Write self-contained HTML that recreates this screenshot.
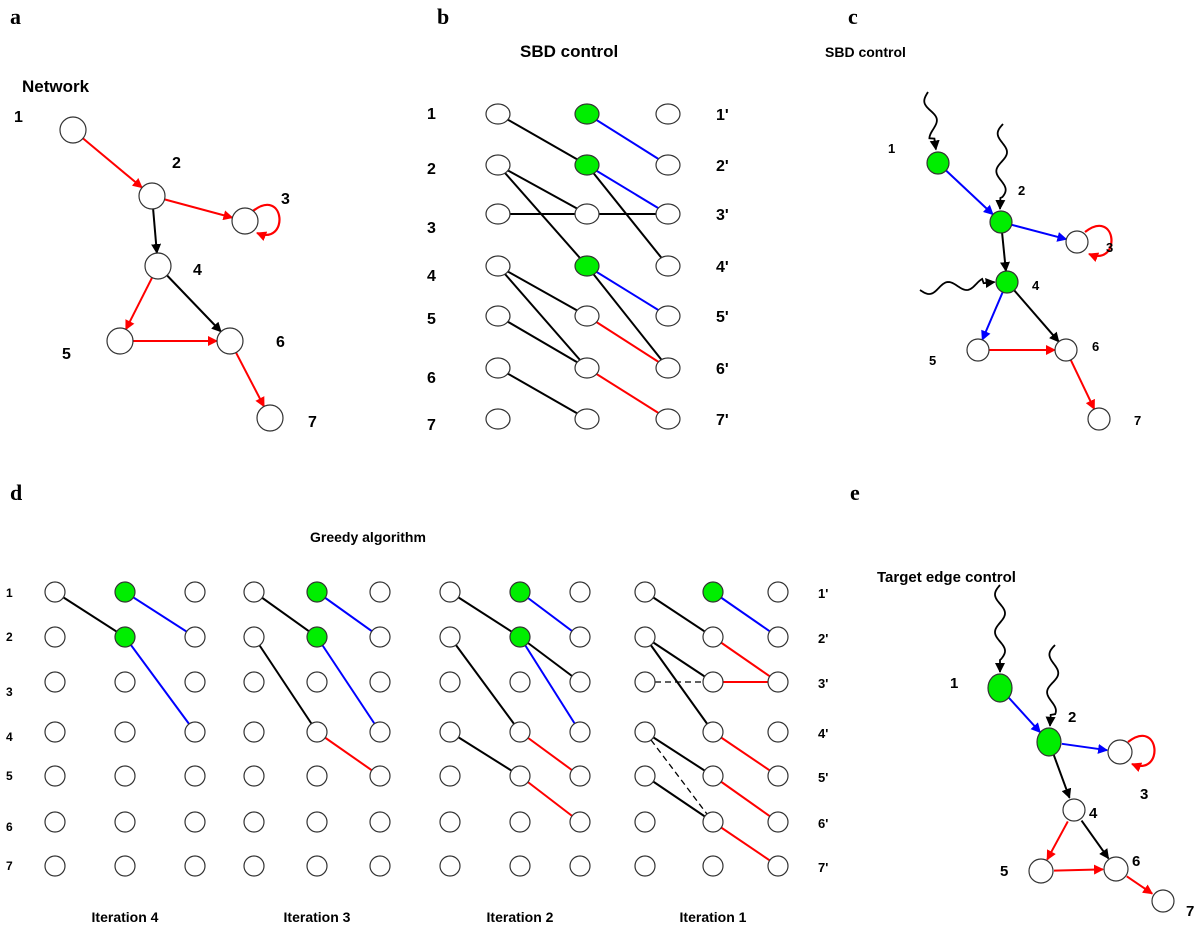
<!DOCTYPE html>
<html><head><meta charset="utf-8"><style>
body{margin:0;background:#fff}
svg{display:block}
text{font-family:"Liberation Sans",sans-serif;font-weight:bold;fill:#000}
.pl{font-family:"Liberation Serif",serif;font-size:22px}
</style></head><body>
<svg id="s" width="1200" height="930" viewBox="0 0 1200 930">
<defs>
<marker id="ak" markerWidth="10" markerHeight="10" refX="9" refY="5" orient="auto" markerUnits="userSpaceOnUse"><path d="M0,0L10,5L0,10z" fill="#000"/></marker>
<marker id="ar" markerWidth="10" markerHeight="10" refX="9" refY="5" orient="auto" markerUnits="userSpaceOnUse"><path d="M0,0L10,5L0,10z" fill="#f00"/></marker>
<marker id="ab" markerWidth="10" markerHeight="10" refX="9" refY="5" orient="auto" markerUnits="userSpaceOnUse"><path d="M0,0L10,5L0,10z" fill="#00f"/></marker>
</defs>
</svg>
<script>
const S=document.getElementById('s');const NS='http://www.w3.org/2000/svg';
const COL={k:'#000',r:'#f00',b:'#00f'};
function el(tag,attrs,name,parent){const e=document.createElementNS(NS,tag);for(const k in attrs)e.setAttribute(k,attrs[k]);


(parent||S).appendChild(e);return e;}
function txt(x,y,s,size,name,cls){const t=el('text',{x:x,y:y,'font-size':size},name);if(cls)t.setAttribute('class',cls);t.textContent=s;return t;}
function node(x,y,rx,ry,green,name){return el('ellipse',{cx:x,cy:y,rx:rx,ry:ry,fill:green?'#0e0':'#fff',stroke:'#333','stroke-width':1.2},name);}
function line(x1,y1,x2,y2,c,name,dash){const a={x1:x1,y1:y1,x2:x2,y2:y2,stroke:COL[c],'stroke-width':2};if(dash)a['stroke-dasharray']='6,4';if(dash)a['stroke-width']=1.3;return el('line',a,name);}
function arrow(p,q,c,rp,rq,name){const dx=q[0]-p[0],dy=q[1]-p[1],L=Math.hypot(dx,dy);
const x1=p[0]+dx/L*rp,y1=p[1]+dy/L*rp,x2=q[0]-dx/L*rq,y2=q[1]-dy/L*rq;
return el('line',{x1:x1,y1:y1,x2:x2,y2:y2,stroke:COL[c],'stroke-width':2,'marker-end':'url(#a'+c+')'},name);}
function selfloop(x,y,c,name){return el('path',{d:`M${x+8},${y-10} C${x+40},${y-35} ${x+45},${y+25} ${x+12},${y+12}`,fill:'none',stroke:COL[c],'stroke-width':2.2,'marker-end':'url(#a'+c+')'},name);}
function wavy(x1,y1,x2,y2,name){const dx=x2-x1,dy=y2-y1,L=Math.hypot(dx,dy),ux=dx/L,uy=dy/L,nx=-uy,ny=ux;let d=`M${x1},${y1}`;const n=Math.floor(L);
for(let i=1;i<=n;i++){const t=i;const amp=(t<L-12)?5*Math.sin(t/6):0;d+=` L${x1+ux*t+nx*amp},${y1+uy*t+ny*amp}`;}
return el('path',{d:d,fill:'none',stroke:'#000','stroke-width':1.8,'marker-end':'url(#ak)'},name);}

/* ---- panel a ---- */
txt(10,24,'a',22,'panel-a-label','pl');txt(22,92,'Network',17,'panel-a-title');
const aNodes=[[73,130],[152,196],[245,221],[158,266],[120,341],[230,341],[270,418]];
const aLab=[[14,122],[172,168],[281,204],[193,275],[62,359],[276,347],[308,427]];
const aEdges=[[0,1,'r'],[1,2,'r'],[1,3,'k'],[3,4,'r'],[3,5,'k'],[4,5,'r'],[5,6,'r']];
aEdges.forEach(e=>arrow(aNodes[e[0]],aNodes[e[1]],e[2],13,13,'a-edge-'+(e[0]+1)+'-'+(e[1]+1)));
selfloop(245,221,'r','a-selfloop-3');
aNodes.forEach((p,i)=>{node(p[0],p[1],13,13,false,'a-node-'+(i+1));txt(aLab[i][0],aLab[i][1],String(i+1),16,'a-label-'+(i+1));});

/* ---- panel b ---- */
txt(437,24,'b',22,'panel-b-label','pl');txt(520,57,'SBD control',17,'panel-b-title');
const bX=[498,587,668],bY=[114,165,214,266,316,368,419];
const bLY=[119,174,233,281,324,383,430];
const bEdges=[[0,0,1,1,'k'],[1,0,2,1,'b'],[0,1,1,2,'k'],[0,1,1,3,'k'],[0,2,2,2,'k'],[1,1,2,2,'b'],[1,1,2,3,'k'],[1,3,2,4,'b'],[1,3,2,5,'k'],[0,3,1,4,'k'],[0,3,1,5,'k'],[0,4,1,5,'k'],[1,4,2,5,'r'],[0,5,1,6,'k'],[1,5,2,6,'r']];
bEdges.forEach(e=>line(bX[e[0]],bY[e[1]],bX[e[2]],bY[e[3]],e[4],'b-edge'));
const bGreen=[[1,0],[1,1],[1,3]];
for(let c=0;c<3;c++)for(let r=0;r<7;r++)node(bX[c],bY[r],12,10,bGreen.some(g=>g[0]==c&&g[1]==r),'b-node-'+c+'-'+r);
bY.forEach((y,i)=>{txt(427,bLY[i],String(i+1),16,'b-left-label');txt(716,y+6,(i+1)+"'",16,'b-right-label');});

/* ---- panel c ---- */
txt(848,24,'c',22,'panel-c-label','pl');txt(825,57,'SBD control',14,'panel-c-title');
const cNodes=[[938,163],[1001,222],[1077,242],[1007,282],[978,350],[1066,350],[1099,419]];
const cGreen=[0,1,3];
const cLab=[[888,153],[1018,195],[1106,252],[1032,290],[929,365],[1092,351],[1134,425]];
const cEdges=[[0,1,'b'],[1,2,'b'],[1,3,'k'],[3,4,'b'],[3,5,'k'],[4,5,'r'],[5,6,'r']];
cEdges.forEach(e=>arrow(cNodes[e[0]],cNodes[e[1]],e[2],11,11,'c-edge-'+(e[0]+1)+'-'+(e[1]+1)));
selfloop(1077,242,'r','c-selfloop-3');
wavy(928,92,936,150,'c-input-1');wavy(1003,124,1000,209,'c-input-2');wavy(920,290,995,282,'c-input-4');
cNodes.forEach((p,i)=>{node(p[0],p[1],11,11,cGreen.includes(i),'c-node-'+(i+1));txt(cLab[i][0],cLab[i][1],String(i+1),13,'c-label-'+(i+1));});

/* ---- panel d ---- */
txt(10,500,'d',22,'panel-d-label','pl');txt(310,542,'Greedy algorithm',14,'panel-d-title');
const dY=[592,637,682,732,776,822,866];
const dLY=[593,637,692,737,776,827,866];
const iters=[
 {name:'Iteration 4',x:[55,125,195],green:[0,1],edges:[[0,0,1,1,'k'],[1,0,2,1,'b'],[1,1,2,3,'b']]},
 {name:'Iteration 3',x:[254,317,380],green:[0,1],edges:[[0,0,1,1,'k'],[1,0,2,1,'b'],[0,1,1,3,'k'],[1,1,2,3,'b'],[1,3,2,4,'r']]},
 {name:'Iteration 2',x:[450,520,580],green:[0,1],edges:[[0,0,1,1,'k'],[1,0,2,1,'b'],[0,1,1,3,'k'],[1,1,2,2,'k'],[1,1,2,3,'b'],[0,3,1,4,'k'],[1,3,2,4,'r'],[1,4,2,5,'r']]},
 {name:'Iteration 1',x:[645,713,778],green:[0],edges:[[0,0,1,1,'k'],[1,0,2,1,'b'],[0,1,1,2,'k'],[0,1,1,3,'k'],[0,2,1,2,'k',1],[1,1,2,2,'r'],[1,2,2,2,'r'],[0,3,1,4,'k'],[0,3,1,5,'k',1],[0,4,1,5,'k'],[1,3,2,4,'r'],[1,4,2,5,'r'],[1,5,2,6,'r']]}
];
iters.forEach((it,k)=>{
 it.edges.forEach(e=>line(it.x[e[0]],dY[e[1]],it.x[e[2]],dY[e[3]],e[4],'d-edge',e[5]));
 for(let c=0;c<3;c++)for(let r=0;r<7;r++)node(it.x[c],dY[r],10,10,c==1&&it.green.includes(r),'d-node');
 const t=txt(it.x[1],922,it.name,14,'d-iteration-label');t.setAttribute('text-anchor','middle');
});
dY.forEach((y,i)=>{txt(6,dLY[i]+4,String(i+1),12,'d-left-label');txt(818,y+6,(i+1)+"'",13,'d-right-label');});

/* ---- panel e ---- */
txt(850,500,'e',22,'panel-e-label','pl');txt(877,582,'Target edge control',15,'panel-e-title');
const eNodes=[[1000,688],[1049,742],[1120,752],[1074,810],[1041,871],[1116,869],[1163,901]];
const eR=[[12,14],[12,14],[12,12],[11,11],[12,12],[12,12],[11,11]];
const eGreen=[0,1];
const eLab=[[950,688],[1068,722],[1140,799],[1089,818],[1000,876],[1132,866],[1186,916]];
const eEdges=[[0,1,'b'],[1,2,'b'],[1,3,'k'],[3,4,'r'],[3,5,'k'],[4,5,'r'],[5,6,'r']];
eEdges.forEach(e=>arrow(eNodes[e[0]],eNodes[e[1]],e[2],13,13,'e-edge-'+(e[0]+1)+'-'+(e[1]+1)));
selfloop(1120,752,'r','e-selfloop-3');
wavy(1000,585,1000,672,'e-input-1');wavy(1055,645,1050,726,'e-input-2');
eNodes.forEach((p,i)=>{node(p[0],p[1],eR[i][0],eR[i][1],eGreen.includes(i),'e-node-'+(i+1));txt(eLab[i][0],eLab[i][1],String(i+1),15,'e-label-'+(i+1));});
</script>
</body></html>
